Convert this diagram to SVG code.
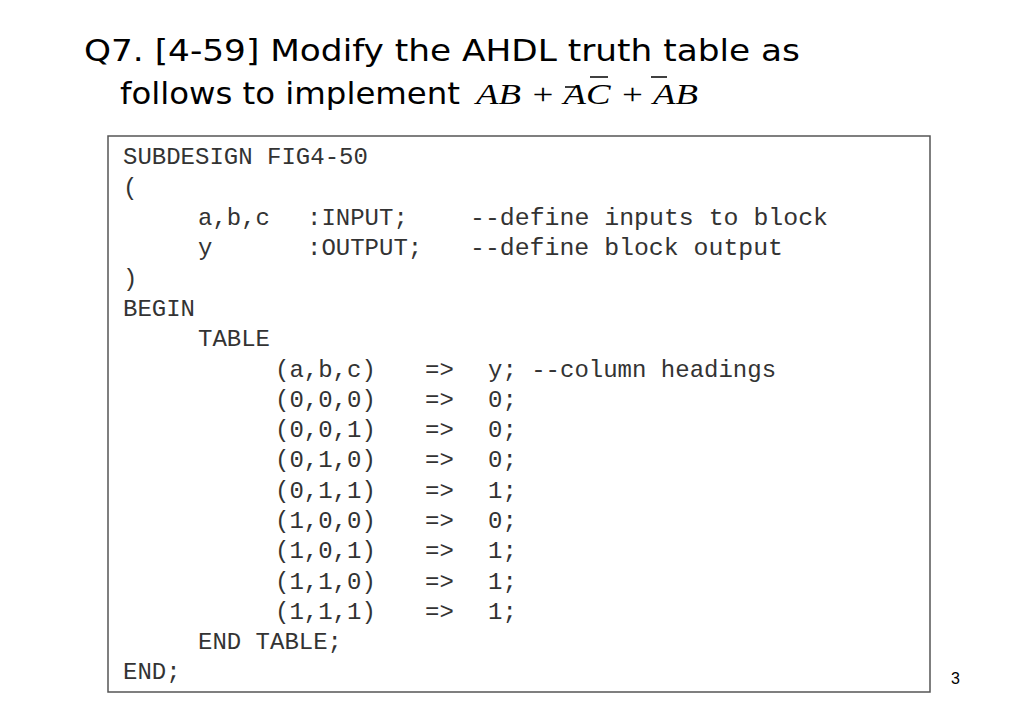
<svg xmlns="http://www.w3.org/2000/svg" width="1024" height="724" viewBox="0 0 1024 724">
<style>
.t{font-family:"DejaVu Sans Condensed","DejaVu Sans",sans-serif;font-size:31px;fill:#000}
.m{font-family:"Liberation Serif","Times New Roman",serif;font-style:italic;font-size:30px}
.c{font-family:"Liberation Mono","Courier New",monospace;font-size:24px;fill:#333}
</style>
<rect width="1024" height="724" fill="#fff"/>
<g id="title">
<text class="t" x="84" y="61" textLength="716" lengthAdjust="spacingAndGlyphs">Q7. [4-59] Modify the AHDL truth table as</text>
<text class="t" x="120" y="104" textLength="340" lengthAdjust="spacingAndGlyphs">follows to implement</text>
<text class="m" x="476" y="104" textLength="222" lengthAdjust="spacingAndGlyphs">AB + AC + AB</text>
<line x1="590" y1="77" x2="608" y2="77" stroke="#000" stroke-width="1.5"/>
<line x1="651" y1="77" x2="667" y2="77" stroke="#000" stroke-width="1.5"/>
<line x1="565" y1="87" x2="578" y2="87" stroke="#000" stroke-width="1.5"/>
</g>
<g id="code">
<rect x="108" y="136" width="822" height="556" fill="#fff" stroke="#555" stroke-width="1.5"/>
<g class="c">
<text x="123" y="164">SUBDESIGN FIG4-50</text>
<text x="123" y="195">(</text>
<text x="198" y="225">a,b,c</text><text x="307" y="225">:INPUT;</text><text x="470" y="225" textLength="358" lengthAdjust="spacingAndGlyphs">--define inputs to block</text>
<text x="198" y="255">y</text><text x="307" y="255">:OUTPUT;</text><text x="470" y="255" textLength="313" lengthAdjust="spacingAndGlyphs">--define block output</text>
<text x="123" y="286">)</text>
<text x="123" y="316">BEGIN</text>
<text x="198" y="346">TABLE</text>
<text x="275" y="377">(a,b,c)</text><text x="425" y="377">=&gt;</text><text x="488" y="377">y; --column headings</text>
<text x="275" y="407">(0,0,0)</text><text x="425" y="407">=&gt;</text><text x="488" y="407">0;</text>
<text x="275" y="437">(0,0,1)</text><text x="425" y="437">=&gt;</text><text x="488" y="437">0;</text>
<text x="275" y="467">(0,1,0)</text><text x="425" y="467">=&gt;</text><text x="488" y="467">0;</text>
<text x="275" y="498">(0,1,1)</text><text x="425" y="498">=&gt;</text><text x="488" y="498">1;</text>
<text x="275" y="528">(1,0,0)</text><text x="425" y="528">=&gt;</text><text x="488" y="528">0;</text>
<text x="275" y="558">(1,0,1)</text><text x="425" y="558">=&gt;</text><text x="488" y="558">1;</text>
<text x="275" y="589">(1,1,0)</text><text x="425" y="589">=&gt;</text><text x="488" y="589">1;</text>
<text x="275" y="619">(1,1,1)</text><text x="425" y="619">=&gt;</text><text x="488" y="619">1;</text>
<text x="198" y="649">END TABLE;</text>
<text x="123" y="679">END;</text>
</g>
</g>
<text x="951" y="684" font-family="Liberation Sans,Arial,sans-serif" font-size="16">3</text>
</svg>
